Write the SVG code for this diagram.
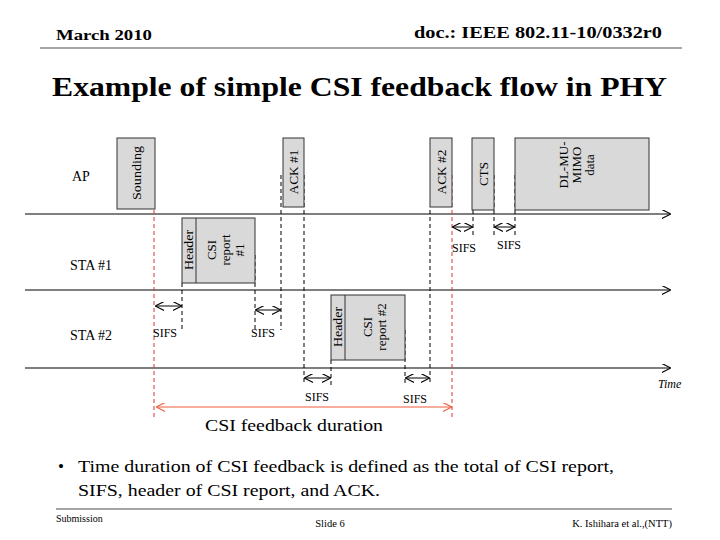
<svg xmlns="http://www.w3.org/2000/svg" width="720" height="540" viewBox="0 0 720 540">
<defs>
<marker id="ah" viewBox="0 0 10 10" refX="9" refY="5" markerWidth="9" markerHeight="9" markerUnits="userSpaceOnUse" orient="auto-start-reverse"><path d="M0,0 L10,5 L0,10" fill="none" stroke="#000" stroke-width="1.2"/></marker>
<marker id="ahr" viewBox="0 0 10 10" refX="9" refY="5" markerWidth="9" markerHeight="9" markerUnits="userSpaceOnUse" orient="auto-start-reverse"><path d="M0,0 L10,5 L0,10" fill="none" stroke="#f05a3c" stroke-width="1.2"/></marker>
</defs>
<style>
text{font-family:"Liberation Serif","Times New Roman","Nimbus Roman",serif;fill:#000}
.box{fill:#d9d9d9;stroke:#333;stroke-width:1}
.lbl{font-size:13px}
.dash{stroke:#000;stroke-width:1;stroke-dasharray:4,3;fill:none}
.red{stroke:#e03030;stroke-width:1;stroke-dasharray:4,3;fill:none}
.sa{stroke:#000;stroke-width:1;marker-start:url(#ah);marker-end:url(#ah)}
.tl{stroke:#000;stroke-width:1.2;marker-end:url(#ah)}
.s{font-size:12px}
</style>
<rect width="720" height="540" fill="#fff"/>
<text x="56" y="40" font-size="14" font-weight="bold" textLength="96" lengthAdjust="spacingAndGlyphs">March 2010</text>
<text x="662" y="38" font-size="17" font-weight="bold" text-anchor="end" textLength="248" lengthAdjust="spacingAndGlyphs">doc.: IEEE 802.11-10/0332r0</text>
<line x1="40" y1="48" x2="682" y2="48" stroke="#888" stroke-width="1.5"/>
<text x="52" y="96" font-size="28" font-weight="bold" textLength="615" lengthAdjust="spacingAndGlyphs">Example of simple CSI feedback flow in PHY</text>

<g id="connectors">
<line class="tl" x1="25" y1="214" x2="670" y2="214"/>
<line class="tl" x1="25" y1="290" x2="670" y2="290"/>
<line class="tl" x1="25" y1="368" x2="670" y2="368"/>
<path class="red" d="M154,175V418M452,175V418"/>
<line x1="157" y1="407" x2="451" y2="407" stroke="#f05a3c" stroke-width="1.2" marker-start="url(#ahr)" marker-end="url(#ahr)"/>
<path class="dash" d="M182,283V330M255,255V330M281,175V330M304,175V385M331,360V385M405,330V385M430,210V385M473,210V235M494,175V235M515,175V235"/>
<line class="sa" x1="156" y1="306" x2="181" y2="306"/>
<line class="sa" x1="256" y1="310" x2="280" y2="310"/>
<line class="sa" x1="305" y1="378" x2="330" y2="378"/>
<line class="sa" x1="406" y1="378" x2="429" y2="378"/>
<line class="sa" x1="453" y1="227" x2="472" y2="227"/>
<line class="sa" x1="495" y1="227" x2="514" y2="227"/>
</g>

<g id="sounding"><rect class="box" x="117" y="138" width="38" height="71"/><text class="lbl" transform="translate(141,173) rotate(-90)" text-anchor="middle" textLength="54" lengthAdjust="spacingAndGlyphs">Sounding</text></g>
<g id="ack1"><rect class="box" x="283" y="138" width="21" height="69"/><text class="lbl" transform="translate(298,172) rotate(-90)" text-anchor="middle" textLength="45" lengthAdjust="spacingAndGlyphs">ACK #1</text></g>
<g id="ack2"><rect class="box" x="430" y="138" width="22" height="69"/><text class="lbl" transform="translate(446,172) rotate(-90)" text-anchor="middle" textLength="45" lengthAdjust="spacingAndGlyphs">ACK #2</text></g>
<g id="cts"><rect class="box" x="472" y="138" width="22" height="72"/><text class="lbl" transform="translate(488,174) rotate(-90)" text-anchor="middle">CTS</text></g>
<g id="dlmumimo"><rect class="box" x="515" y="138" width="134" height="72"/><text class="lbl" transform="translate(568,165) rotate(-90)" text-anchor="middle"><tspan x="0" dy="0">DL-MU-</tspan><tspan x="0" dy="13">MIMO</tspan><tspan x="0" dy="13">data</tspan></text></g>
<g id="csi1"><rect class="box" x="182" y="218" width="73" height="65"/><line x1="196" y1="218" x2="196" y2="283" stroke="#333"/><text class="lbl" transform="translate(193,250) rotate(-90)" text-anchor="middle" textLength="40" lengthAdjust="spacingAndGlyphs">Header</text><text class="lbl" transform="translate(216,250) rotate(-90)" text-anchor="middle"><tspan x="0" dy="0">CSI</tspan><tspan x="0" dy="14">report</tspan><tspan x="0" dy="14">#1</tspan></text></g>
<g id="csi2"><rect class="box" x="331" y="295" width="74" height="65"/><line x1="345" y1="295" x2="345" y2="360" stroke="#333"/><text class="lbl" transform="translate(342,327) rotate(-90)" text-anchor="middle" textLength="40" lengthAdjust="spacingAndGlyphs">Header</text><text class="lbl" transform="translate(372,327) rotate(-90)" text-anchor="middle"><tspan x="0" dy="0">CSI</tspan><tspan x="0" dy="14">report #2</tspan></text></g>

<g id="labels">
<text x="72" y="181" font-size="14">AP</text>
<text x="70" y="270" font-size="14">STA #1</text>
<text x="70" y="340" font-size="14">STA #2</text>
<text class="s" x="153" y="337">SIFS</text>
<text class="s" x="251" y="337">SIFS</text>
<text class="s" x="305" y="401">SIFS</text>
<text class="s" x="403" y="403">SIFS</text>
<text class="s" x="452" y="252">SIFS</text>
<text class="s" x="497" y="249">SIFS</text>
<text x="658" y="388" font-size="12" font-style="italic">Time</text>
<text x="205" y="431" font-size="17" textLength="178" lengthAdjust="spacingAndGlyphs">CSI feedback duration</text>
</g>
<text x="58" y="472" font-size="17">•</text>
<text x="78" y="472" font-size="17" textLength="536" lengthAdjust="spacingAndGlyphs">Time duration of CSI feedback is defined as the total of CSI report,</text>
<text x="78" y="496" font-size="17" textLength="302" lengthAdjust="spacingAndGlyphs">SIFS, header of CSI report, and ACK.</text>
<line x1="56" y1="509" x2="672" y2="509" stroke="#888" stroke-width="1.5"/>
<text x="56" y="522" font-size="10">Submission</text>
<text x="330" y="527" font-size="10.5" text-anchor="middle">Slide 6</text>
<text x="672" y="527" font-size="10.5" text-anchor="end">K. Ishihara  et al.,(NTT)</text>
</svg>
